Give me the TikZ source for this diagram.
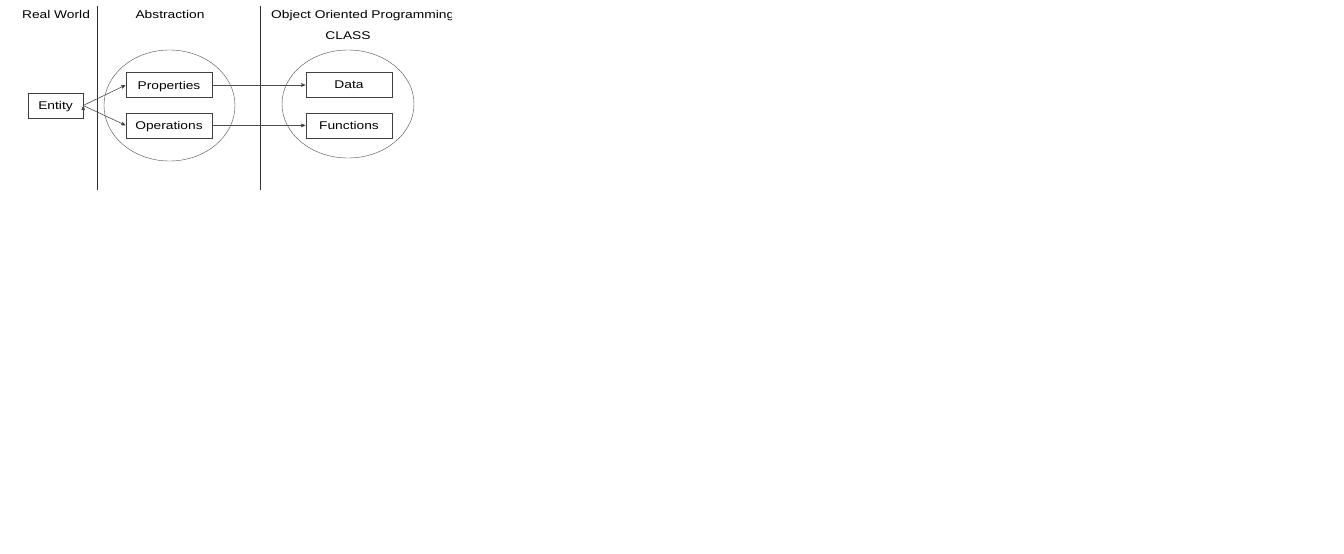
\documentclass[tikz,border=0pt]{standalone}
\usepackage{fontspec}
\setmainfont[FakeStretch=1.23]{Liberation Sans}
\usetikzlibrary{arrows,positioning}
\tikzset{x=1pt,y=-1pt,line width=0.7pt,
  box/.style={draw=black!75,minimum height=25pt,inner sep=0pt,text depth=0pt,font=\fontsize{11.2}{13}\selectfont},
  lbl/.style={font=\fontsize{11.2}{13}\selectfont,inner sep=0pt,text depth=0pt},
  flow/.style={-stealth',draw=black!70,line width=0.6pt,shorten >=0.5pt},
  group/.style={draw=black!70,ellipse}}

\begin{document}
\begin{tikzpicture}
              \useasboundingbox (0,0) rectangle (1344,554);

              \node[lbl] (rw) at (56,14) {Real World};
              \node[lbl] (abs) at (170,14) {Abstraction};
              \begin{scope}
                \clip (0,0) rectangle (451,30);
                \node[lbl,anchor=west] (oop) at (271,14) {Object Oriented Programming};
              \end{scope}
              \node[lbl] (cls) at (348,36) {CLASS};

              \node[box,minimum width=55pt] (entity) at (55.5,105.5) {Entity};
              \node[box,minimum width=86pt] (prop) at (169,85) {Properties};
              \node[box,minimum width=86pt] (oper) [below=15pt of prop] {Operations};
              \node[box,minimum width=86pt] (data) at (349,85) {Data};
              \node[box,minimum width=86pt] (func) [below=15pt of data] {Functions};

              \draw[black!70] (169.5,105.5) ellipse [x radius=65.5, y radius=55.5];
              \draw[black!70] (348,104) ellipse [x radius=66, y radius=54];

              \coordinate (s1t) at (97,6);
              \coordinate (s1b) at (97,190);
              \coordinate (s2t) at (260,6);
              \coordinate (s2b) at (260,190);
              \draw[black!80] (s1t) -- (s1b);
              \draw[black!80] (s2t) -- (s2b);

              \path[flow]
              (entity.east) edge (prop.west)
              (entity.east) edge (oper.west)
              (prop) edge (data)
              (oper) edge (func)
              ;
            \end{tikzpicture}
\end{document}
